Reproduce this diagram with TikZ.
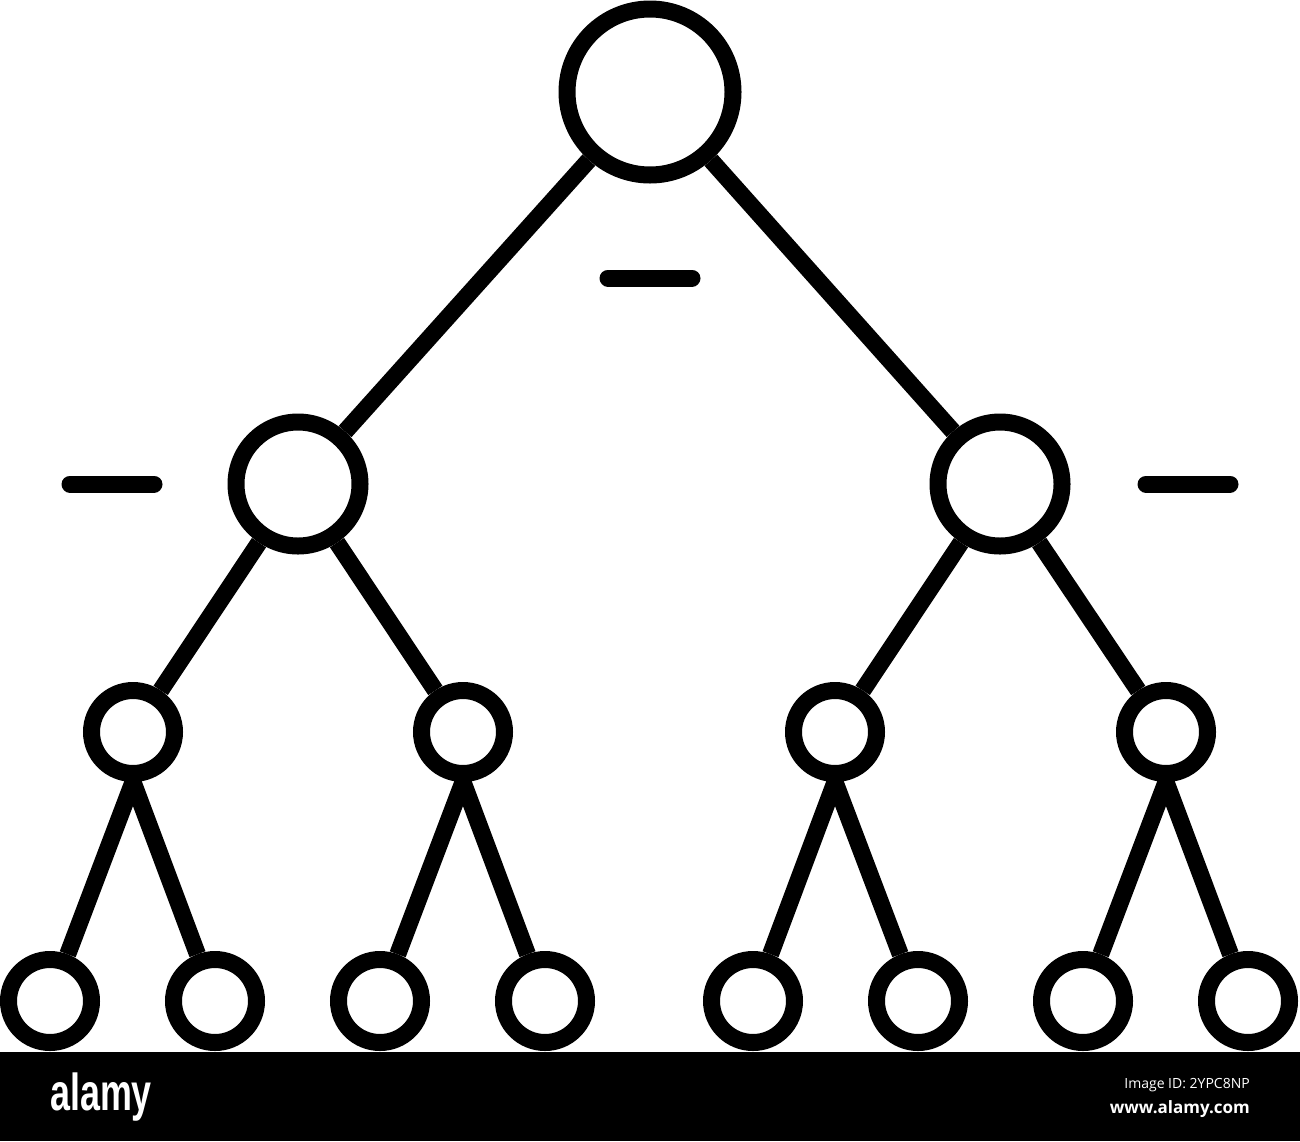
\documentclass[tikz,border=0pt]{standalone}
\usepackage{fontspec}
\setmainfont{Open Sans}
\newfontfamily\logofont{Liberation Sans}
\begin{document}
\begin{tikzpicture}[x=1pt,y=-1pt,
  treenode/.style={circle,draw=black,fill=white,line width=17pt,inner sep=0pt},
  rootnode/.style={treenode,minimum size=166pt},
  midnode/.style={treenode,minimum size=124pt},
  smallnode/.style={treenode,minimum size=83pt},
  edge/.style={line width=17pt,draw=black},
  minus/.style={line width=17pt,line cap=round,draw=black}]
\useasboundingbox (0,0) rectangle (1300,1141);
% nodes
\node[rootnode] (r) at (650,92) {};
\node[midnode] (a) at (298,484) {};
\node[midnode] (b) at (1000,484) {};
\node[smallnode] (a1) at (133,732) {};
\node[smallnode] (a2) at (463,732) {};
\node[smallnode] (b1) at (835,732) {};
\node[smallnode] (b2) at (1166,732) {};
\node[smallnode] (a11) at (50,1001) {};
\node[smallnode] (a12) at (215,1001) {};
\node[smallnode] (a21) at (380,1001) {};
\node[smallnode] (a22) at (545,1001) {};
\node[smallnode] (b11) at (753,1001) {};
\node[smallnode] (b12) at (918,1001) {};
\node[smallnode] (b21) at (1083,1001) {};
\node[smallnode] (b22) at (1248,1001) {};
% edges
\draw[edge] (r) -- (a);
\draw[edge] (r) -- (b);
\draw[edge] (a) -- (a1);
\draw[edge] (a) -- (a2);
\draw[edge] (b) -- (b1);
\draw[edge] (b) -- (b2);
\draw[edge] (a1.south) -- (a11);
\draw[edge] (a1.south) -- (a12);
\draw[edge] (a2.south) -- (a21);
\draw[edge] (a2.south) -- (a22);
\draw[edge] (b1.south) -- (b11);
\draw[edge] (b1.south) -- (b12);
\draw[edge] (b2.south) -- (b21);
\draw[edge] (b2.south) -- (b22);
% minus signs
\coordinate (m1a) at (608,278); \coordinate (m1b) at (692,278);
\coordinate (m2a) at (70,484);  \coordinate (m2b) at (154,484);
\coordinate (m3a) at (1146,484); \coordinate (m3b) at (1230,484);
\draw[minus] (m1a) -- (m1b);
\draw[minus] (m2a) -- (m2b);
\draw[minus] (m3a) -- (m3b);
% watermark bar
\fill[black] (0,1052) rectangle (1300,1141);
\node[anchor=base west,inner sep=0pt,text=white,xscale=0.69,font=\logofont\bfseries\fontsize{52}{52}\selectfont] (logo) at (50,1110) {alamy};
\node[anchor=base east,inner sep=0pt,text=white,font=\fontsize{14}{14}\selectfont] (imgid) at (1250,1088) {Image ID: 2YPC8NP};
\node[anchor=base east,inner sep=0pt,text=white,font=\bfseries\fontsize{17}{17}\selectfont] (url) at (1250,1113) {www.alamy.com};
\end{tikzpicture}
\end{document}
